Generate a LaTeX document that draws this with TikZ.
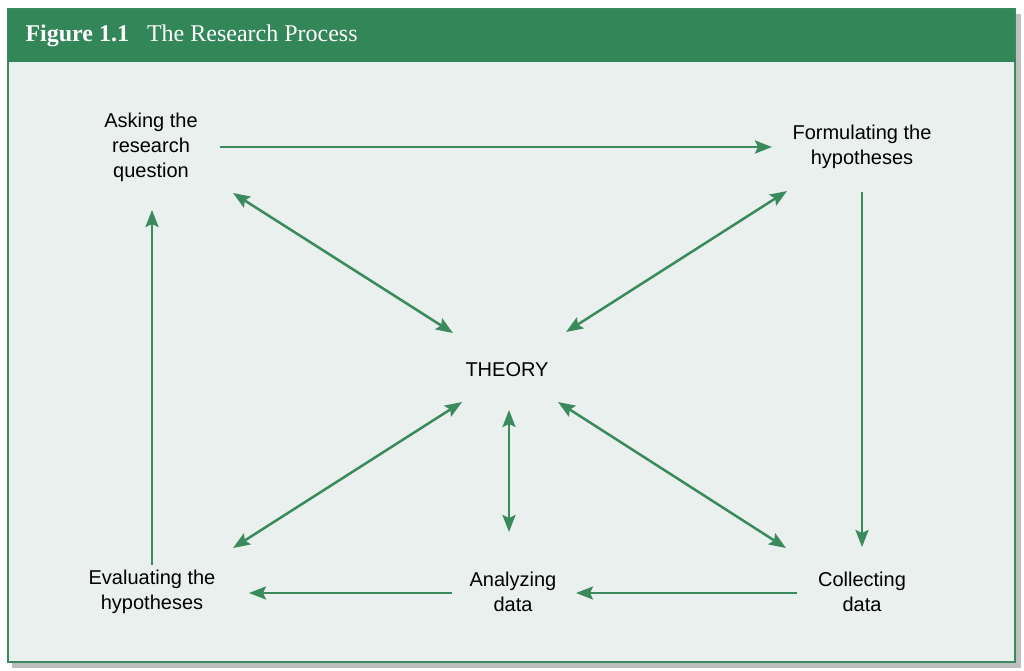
\documentclass[tikz,border=0pt]{standalone}
\usepackage{fontspec}
\setmainfont{Liberation Sans}
\newfontfamily\hdfont{Liberation Serif}
\usetikzlibrary{arrows.meta}
\definecolor{fg}{HTML}{3A8A5E}
\definecolor{hd}{HTML}{338658}
\definecolor{bgc}{HTML}{E9F0ED}
\begin{document}
\begin{tikzpicture}[x=1pt,y=-1pt,
  lbl/.style={font=\fontsize{20}{25}\selectfont,align=center,inner sep=0},
  arr/.style={draw=fg,line width=2.5pt,-{Stealth[length=17pt,width=13pt,inset=3pt]}},
  darr/.style={arr,{Stealth[length=17pt,width=13pt,inset=3pt]}-{Stealth[length=17pt,width=13pt,inset=3pt]}}]
\useasboundingbox (0,0) rectangle (1024,670);
\fill[white] (0,0) rectangle (1024,670);
\fill[black!25] (12,14) rectangle (1021,668);
\fill[bgc,draw=fg,line width=2.5pt] (8,9) rectangle (1015,662);
\fill[hd] (8,9) rectangle (1015,62);
\node[anchor=west,text=white,font=\hdfont\fontsize{24}{28}\selectfont] (title) at (22,36) {\textbf{Figure 1.1}\hspace{18pt}The Research Process};
\node[lbl] (ask) at (151,147) {Asking the\\research\\question};
\node[lbl] (form) at (862,147) {Formulating the\\hypotheses};
\node[lbl] (th) at (507,370) {THEORY};
\node[lbl] (eval) at (152,592) {Evaluating the\\hypotheses};
\node[lbl] (ana) at (513,592) {Analyzing\\data};
\node[lbl] (coll) at (862,592) {Collecting\\data};
\coordinate (a1) at (220,147); \coordinate (f1) at (772,147);
\coordinate (a2) at (233,193); \coordinate (t1) at (453,333);
\coordinate (f2) at (787,191); \coordinate (t2) at (566,332);
\coordinate (f3) at (862,192); \coordinate (c1) at (862,547);
\coordinate (c2) at (786,548); \coordinate (t3) at (558,402);
\coordinate (t4) at (509,410); \coordinate (n1) at (509,532);
\coordinate (t5) at (462,402); \coordinate (e1) at (233,548);
\coordinate (c3) at (797,593); \coordinate (n2) at (576,593);
\coordinate (n3) at (452,593); \coordinate (e2) at (249,593);
\coordinate (e3) at (152,565); \coordinate (a3) at (152,210);
\draw[arr] (a1) -- (f1);
\draw[darr] (a2) -- (t1);
\draw[darr] (f2) -- (t2);
\draw[arr] (f3) -- (c1);
\draw[darr] (c2) -- (t3);
\draw[darr] (t4) -- (n1);
\draw[darr] (t5) -- (e1);
\draw[arr] (c3) -- (n2);
\draw[arr] (n3) -- (e2);
\draw[arr] (e3) -- (a3);
\end{tikzpicture}
\end{document}
